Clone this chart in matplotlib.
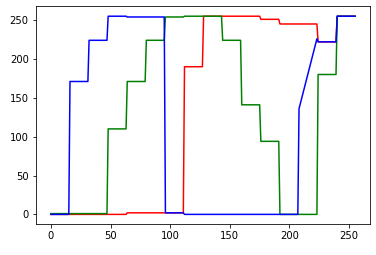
import matplotlib
matplotlib.use("Agg")
import matplotlib.pyplot as plt

# Vertex data (index, value) for each channel
red_x = [0, 63, 64, 111, 112, 127, 128, 175, 176, 191, 192, 223, 224, 239, 240, 255]
red_y = [0, 0, 2, 2, 190, 190, 255, 255, 251, 251, 245, 245, 222, 222, 255, 255]

green_x = [0, 47, 48, 63, 64, 79, 80, 95, 96, 111, 112, 143, 144, 159, 160, 175, 176, 191, 192, 223, 224, 239, 240, 255]
green_y = [1, 1, 110, 110, 171, 171, 224, 224, 254, 254, 255, 255, 224, 224, 141, 141, 94, 94, 0, 0, 180, 180, 255, 255]

blue_x = [0, 15, 16, 31, 32, 47, 48, 63, 64, 95, 96, 111, 112, 207, 208, 223, 224, 239, 240, 255]
blue_y = [0, 0, 171, 171, 224, 224, 255, 255, 254, 254, 2, 2, 0, 0, 136, 226, 222, 222, 255, 255]

fig = plt.figure(figsize=(376/72, 255/72), dpi=72)
ax = fig.add_axes([35.7/376, 1-224.3/255, (370.3-35.7)/376, (224.3-6.3)/255])
ax.plot(red_x, red_y, color='r', linewidth=1.5)
ax.plot(green_x, green_y, color='g', linewidth=1.5)
ax.plot(blue_x, blue_y, color='b', linewidth=1.5)
ax.tick_params(labelsize=10)
fig.savefig("out.png", dpi=72)
